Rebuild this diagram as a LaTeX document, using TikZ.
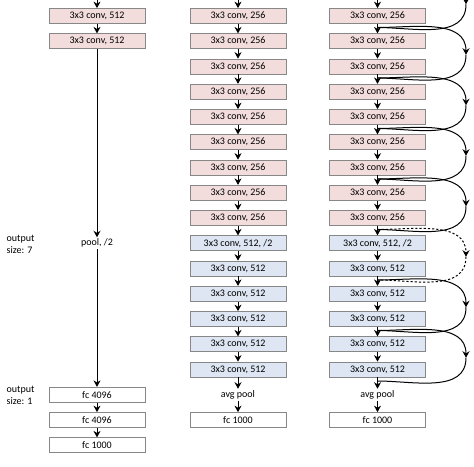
\documentclass[tikz,border=0pt]{standalone}
\usepackage{fontspec}
\setmainfont{Carlito}
\usetikzlibrary{arrows.meta}
\definecolor{convred}{RGB}{242,221,220}
\definecolor{convblue}{RGB}{221,230,242}
\definecolor{boxgray}{RGB}{135,135,135}
\tikzset{
  layer/.style={draw=boxgray,line width=0.7pt,minimum width=96pt,minimum height=15pt,
    inner sep=0pt,font=\fontsize{10}{12}\selectfont},
  redlayer/.style={layer,fill=convred},
  bluelayer/.style={layer,fill=convblue},
  textlayer/.style={inner sep=1.5pt,font=\fontsize{10}{12}\selectfont},
  flow/.style={-{Stealth[length=6.5pt,width=7pt]},line width=1pt},
  shortcut/.style={line width=1pt},
  projection/.style={dash pattern=on 2.2pt off 2pt},
}
\begin{document}
\begin{tikzpicture}[x=1pt,y=-1pt]
  \useasboundingbox (0,0) rectangle (474,466);
  \clip (0,0) rectangle (474,466);
  \node[redlayer] (a0) at (97,16) {3x3 conv, 512};
  \node[redlayer] (a1) at (97,41.25) {3x3 conv, 512};
  \node[textlayer] (apool) at (97,243.25) {pool, /2};
  \node[layer] (afc1) at (97,394.75) {fc 4096};
  \node[layer] (afc2) at (97,420) {fc 4096};
  \node[layer] (afc3) at (97,445.25) {fc 1000};
  \coordinate (atop) at (97,-5);
  \draw[flow] (atop) -- (a0);
  \draw[flow] (a0) -- (a1);
  \draw[flow] (a1) -- (apool);
  \draw[flow] (apool) -- (afc1);
  \draw[flow] (afc1) -- (afc2);
  \draw[flow] (afc2) -- (afc3);
  \node[textlayer,align=left,anchor=west] (size7) at (5,244) {output\\size: 7};
  \node[textlayer,align=left,anchor=west] (size1) at (5,395.5) {output\\size: 1};
  \foreach \c/\x in {b/238,c/377.5} {
    \foreach \i in {0,...,8}
      \node[redlayer] (\c\i) at (\x,{16+25.25*\i}) {3x3 conv, 256};
    \node[bluelayer] (\c9) at (\x,{16+25.25*9}) {3x3 conv, 512, /2};
    \foreach \i in {10,...,14}
      \node[bluelayer] (\c\i) at (\x,{16+25.25*\i}) {3x3 conv, 512};
    \node[textlayer] (\c pool) at (\x,{16+25.25*15}) {avg pool};
    \node[layer] (\c fc) at (\x,{16+25.25*16}) {fc 1000};
    \coordinate (\c top) at (\x,-5);
    \draw[flow] (\c top) -- (\c0);
    \foreach \i [count=\j from 1] in {0,...,13}
      \draw[flow] (\c\i) -- (\c\j);
    \draw[flow] (\c14) -- (\c pool);
    \draw[flow] (\c pool) -- (\c fc);
  }
  \foreach \k in {-2,0,...,14}
    \coordinate (j\k) at (377.5,{27.5+25.25*\k});
  \foreach \k/\l/\sty in {-2/0/solid, 0/2/solid, 2/4/solid, 4/6/solid,
      6/8/solid, 8/10/projection, 10/12/solid, 12/14/solid} {
    \coordinate (r\k) at (466,{29.5+25.25*(\k+1)});
    \draw[shortcut,\sty,-{Stealth[length=6.5pt,width=7pt]}] (j\k) to[out=0,in=90] (r\k);
    \draw[shortcut,\sty] (r\k) to[out=-90,in=0] (j\l);
  }
\end{tikzpicture}
\end{document}
